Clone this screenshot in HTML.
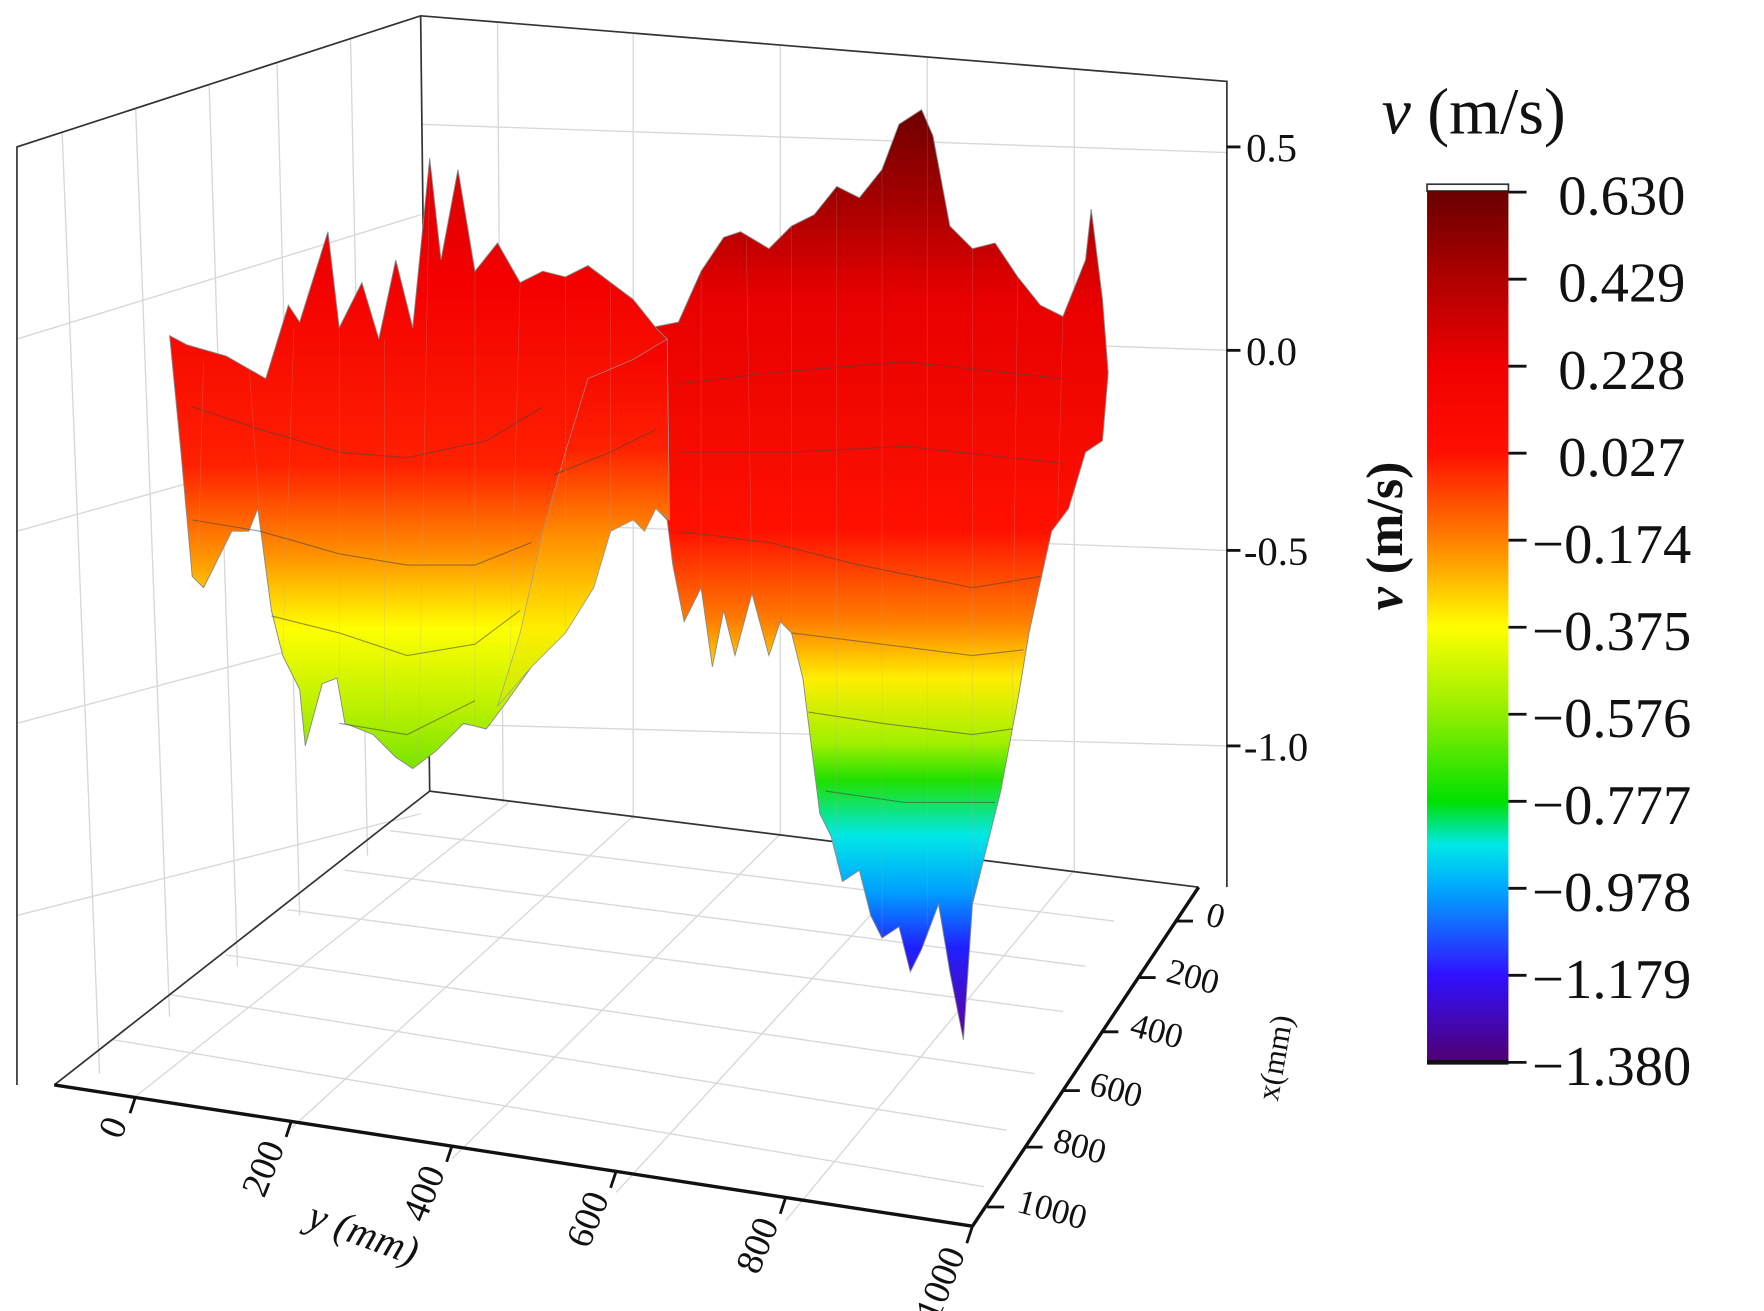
<!DOCTYPE html>
<html><head><meta charset="utf-8"><style>
html,body{margin:0;padding:0;background:#fff;}
svg{display:block;}
text{font-family:"Liberation Serif",serif;fill:#111;}
</style></head><body>
<svg width="1764" height="1311" viewBox="0 0 1560 1160" preserveAspectRatio="none" xmlns="http://www.w3.org/2000/svg">
<defs>
<linearGradient id="gl" x1="0" y1="100" x2="0" y2="700" gradientUnits="userSpaceOnUse">
<stop offset="0" stop-color="#d00000"/>
<stop offset="0.25" stop-color="#f40000"/>
<stop offset="0.52" stop-color="#ff2000"/>
<stop offset="0.65" stop-color="#ff9000"/>
<stop offset="0.76" stop-color="#ffff00"/>
<stop offset="0.88" stop-color="#b8f000"/>
<stop offset="1" stop-color="#60e000"/>
</linearGradient>
<linearGradient id="gk" x1="0" y1="300" x2="0" y2="620" gradientUnits="userSpaceOnUse">
<stop offset="0" stop-color="#f40000"/>
<stop offset="0.3" stop-color="#ff2000"/>
<stop offset="0.55" stop-color="#ff9000"/>
<stop offset="0.8" stop-color="#ffee00"/>
<stop offset="1" stop-color="#c8f000"/>
</linearGradient>
<linearGradient id="gr" x1="0" y1="100" x2="0" y2="920" gradientUnits="userSpaceOnUse">
<stop offset="0" stop-color="#700000"/>
<stop offset="0.1" stop-color="#a80000"/>
<stop offset="0.2" stop-color="#e80000"/>
<stop offset="0.45" stop-color="#ff1000"/>
<stop offset="0.55" stop-color="#ff8000"/>
<stop offset="0.61" stop-color="#ffee00"/>
<stop offset="0.68" stop-color="#a0f000"/>
<stop offset="0.72" stop-color="#20e000"/>
<stop offset="0.78" stop-color="#00e8e8"/>
<stop offset="0.84" stop-color="#00a0ff"/>
<stop offset="0.9" stop-color="#2020ff"/>
<stop offset="1" stop-color="#6000a0"/>
</linearGradient>
<linearGradient id="cb" x1="0" y1="170" x2="0" y2="940" gradientUnits="userSpaceOnUse">
<stop offset="0" stop-color="#6a0000"/>
<stop offset="0.1" stop-color="#b00000"/>
<stop offset="0.2" stop-color="#f00000"/>
<stop offset="0.3" stop-color="#ff1000"/>
<stop offset="0.4" stop-color="#ff8000"/>
<stop offset="0.5" stop-color="#ffff00"/>
<stop offset="0.6" stop-color="#90ee00"/>
<stop offset="0.7" stop-color="#00e000"/>
<stop offset="0.75" stop-color="#00e8e8"/>
<stop offset="0.8" stop-color="#00a8ff"/>
<stop offset="0.9" stop-color="#3010ff"/>
<stop offset="1" stop-color="#500070"/>
</linearGradient>
</defs>
<g stroke="#d8d8d8" stroke-width="1.2" fill="none">
<line x1="55" y1="118" x2="88" y2="950"/><line x1="120" y1="97" x2="150" y2="900"/><line x1="185" y1="76" x2="210" y2="855"/><line x1="245" y1="56" x2="265" y2="810"/><line x1="310" y1="35" x2="325" y2="757"/>
<line x1="15" y1="300" x2="372" y2="190"/><line x1="15" y1="470" x2="372" y2="370"/><line x1="15" y1="640" x2="372" y2="545"/><line x1="15" y1="810" x2="372" y2="720"/>
<line x1="440" y1="20" x2="445" y2="710"/><line x1="560" y1="30" x2="560" y2="725"/><line x1="690" y1="40" x2="690" y2="740"/><line x1="820" y1="50" x2="820" y2="755"/><line x1="950" y1="62" x2="950" y2="770"/>
<line x1="372" y1="110" x2="1085" y2="135"/><line x1="372" y1="285" x2="1085" y2="310"/><line x1="372" y1="460" x2="1085" y2="487"/><line x1="372" y1="640" x2="1085" y2="660"/>
<line x1="100" y1="920" x2="870" y2="1050"/><line x1="150" y1="880" x2="890" y2="1000"/><line x1="200" y1="845" x2="915" y2="950"/><line x1="255" y1="805" x2="940" y2="895"/><line x1="305" y1="770" x2="960" y2="855"/><line x1="345" y1="735" x2="985" y2="815"/>
<line x1="120" y1="970" x2="450" y2="710"/><line x1="258" y1="998" x2="560" y2="722"/><line x1="400" y1="1025" x2="690" y2="738"/><line x1="545" y1="1055" x2="820" y2="755"/><line x1="695" y1="1080" x2="950" y2="770"/>
</g>
<g stroke="#333" stroke-width="1.5" fill="none">
<polyline points="15,960 15,130 372,14 1085,72 1085,785"/>
<line x1="372" y1="14" x2="380" y2="700"/>
<polyline points="48,960 380,700 1060,785"/>
</g>
<!-- right surface -->
<polygon fill="url(#gr)" stroke="#888" stroke-width="0.8" points="575,290 600,285 620,240 640,210 655,205 680,220 700,200 720,190 740,165 760,175 780,150 795,110 815,97 825,120 840,200 860,220 880,215 900,245 920,270 940,280 960,230 965,185 975,265 980,330 975,390 960,400 945,450 930,470 910,560 900,620 885,700 870,760 860,800 852,920 840,860 830,800 815,840 805,860 795,820 780,830 770,810 760,770 745,780 735,740 725,720 710,600 700,560 690,550 680,580 665,525 650,580 640,540 630,590 620,520 605,550 595,500 590,460 580,450 575,400"/>
<!-- left surface -->
<polygon fill="url(#gl)" stroke="#888" stroke-width="0.8" points="150,297 165,305 200,315 235,335 255,270 265,285 290,205 300,290 320,250 335,300 350,230 365,290 380,140 390,230 405,150 420,240 440,215 460,250 480,240 500,245 520,235 540,250 560,265 580,290 590,300 592,460 580,450 570,470 560,460 540,470 525,520 500,560 470,590 445,625 430,645 410,640 385,665 365,680 350,670 330,650 305,640 298,600 285,605 270,660 265,610 250,580 240,540 228,450 220,470 205,470 195,490 180,520 170,510 160,400"/>
<!-- ridge in front of left bowl -->
<polygon fill="url(#gk)" stroke="#999" stroke-width="0.6" points="440,625 460,560 480,470 500,400 520,335 560,318 590,300 592,460 580,450 570,470 560,460 540,470 525,520 500,560 470,590"/>
<g stroke="#444" stroke-width="1" fill="none" opacity="0.55">
<polyline points="170,360 230,380 300,400 360,405 430,390 480,360"/>
<polyline points="170,460 230,470 300,490 360,500 420,500 470,480"/>
<polyline points="240,545 300,560 360,580 420,570 460,540"/>
<polyline points="300,640 360,650 420,620"/>
<polyline points="490,420 540,400 580,380"/>
<polyline points="600,340 680,330 800,320 940,335"/>
<polyline points="600,400 700,400 800,395 940,410"/>
<polyline points="600,470 680,480 760,500 860,520 920,510"/>
<polyline points="700,560 780,570 860,580 905,575"/>
<polyline points="715,630 780,640 860,650 895,645"/>
<polyline points="730,700 800,710 880,710"/>
</g>
<g stroke="#aaa" stroke-width="0.5" opacity="0.35">
<path d="M180 320 L175 500 M220 320 L230 460 M260 290 L250 580 M300 290 L300 600 M340 300 L340 640 M380 150 L370 670 M420 240 L420 640 M460 250 L450 620 M500 245 L500 560 M540 250 L540 470 M620 240 L620 520 M660 210 L665 525 M700 200 L700 560 M740 170 L740 770 M780 150 L780 830 M820 100 L820 820 M860 220 L860 800 M900 245 L895 640 M940 280 L935 470"/>
</g>
<g stroke="#111" stroke-width="3" fill="none">
<line x1="48" y1="960" x2="860" y2="1085"/>
<line x1="860" y1="1085" x2="1060" y2="785"/>
</g>
<g stroke="#111" stroke-width="2.5">
<line x1="120" y1="970" x2="115" y2="985"/><line x1="258" y1="991" x2="253" y2="1006"/><line x1="400" y1="1013" x2="395" y2="1028"/><line x1="545" y1="1036" x2="540" y2="1051"/><line x1="695" y1="1059" x2="690" y2="1074"/><line x1="860" y1="1085" x2="855" y2="1100"/>
<line x1="1040" y1="815" x2="1055" y2="815"/><line x1="1007" y1="865" x2="1022" y2="865"/><line x1="974" y1="913" x2="989" y2="913"/><line x1="940" y1="965" x2="955" y2="965"/><line x1="907" y1="1015" x2="922" y2="1015"/><line x1="873" y1="1068" x2="888" y2="1068"/>
<line x1="1085" y1="130" x2="1097" y2="130"/><line x1="1085" y1="310" x2="1097" y2="310"/><line x1="1085" y1="487" x2="1097" y2="487"/><line x1="1085" y1="660" x2="1097" y2="660"/>
</g>
<g font-size="36">
<text x="1102" y="143">0.5</text><text x="1102" y="323">0.0</text><text x="1100" y="500">-0.5</text><text x="1100" y="673">-1.0</text>
</g>
<g font-size="33" text-anchor="end">
<text transform="translate(113,994) rotate(-68)">0</text>
<text transform="translate(252,1015) rotate(-68)">200</text>
<text transform="translate(394,1037) rotate(-68)">400</text>
<text transform="translate(539,1060) rotate(-68)">600</text>
<text transform="translate(689,1083) rotate(-68)">800</text>
<text transform="translate(854,1109) rotate(-68)">1000</text>
</g>
<g font-size="31">
<text transform="translate(1065,818) rotate(15)">0</text>
<text transform="translate(1030,868) rotate(15)">200</text>
<text transform="translate(998,916) rotate(15)">400</text>
<text transform="translate(962,968) rotate(15)">600</text>
<text transform="translate(930,1018) rotate(15)">800</text>
<text transform="translate(898,1072) rotate(15)">1000</text>
<text transform="translate(1130,975) rotate(-80)" font-size="28">x(mm)</text>
<text transform="translate(270,1085) rotate(20)" font-size="36" font-style="italic">y (mm)</text>
</g>
<text transform="translate(1240,540) rotate(-90)" font-size="46" font-weight="bold"><tspan font-style="italic">v</tspan> (m/s)</text>
<text x="1222" y="118" font-size="58"><tspan font-style="italic">v</tspan> (m/s)</text>
<rect x="1262" y="163" width="72" height="6" fill="#fff" stroke="#333" stroke-width="1.5"/>
<rect x="1262" y="169" width="72" height="772" fill="url(#cb)"/>
<rect x="1262" y="938" width="72" height="4" fill="#111"/>
<g stroke="#111" stroke-width="2.5">
<line x1="1334" y1="170" x2="1350" y2="170"/><line x1="1334" y1="247" x2="1350" y2="247"/><line x1="1334" y1="324" x2="1350" y2="324"/><line x1="1334" y1="401" x2="1350" y2="401"/><line x1="1334" y1="478" x2="1350" y2="478"/><line x1="1334" y1="555" x2="1350" y2="555"/><line x1="1334" y1="632" x2="1350" y2="632"/><line x1="1334" y1="709" x2="1350" y2="709"/><line x1="1334" y1="786" x2="1350" y2="786"/><line x1="1334" y1="863" x2="1350" y2="863"/><line x1="1334" y1="940" x2="1350" y2="940"/>
</g>
<g font-size="50">
<text x="1378" y="190">0.630</text><text x="1378" y="267">0.429</text><text x="1378" y="344">0.228</text><text x="1378" y="421">0.027</text>
<text x="1355" y="498">−0.174</text><text x="1355" y="575">−0.375</text><text x="1355" y="652">−0.576</text><text x="1355" y="729">−0.777</text><text x="1355" y="806">−0.978</text><text x="1355" y="883">−1.179</text><text x="1355" y="960">−1.380</text>
</g>
</svg>
</body></html>
